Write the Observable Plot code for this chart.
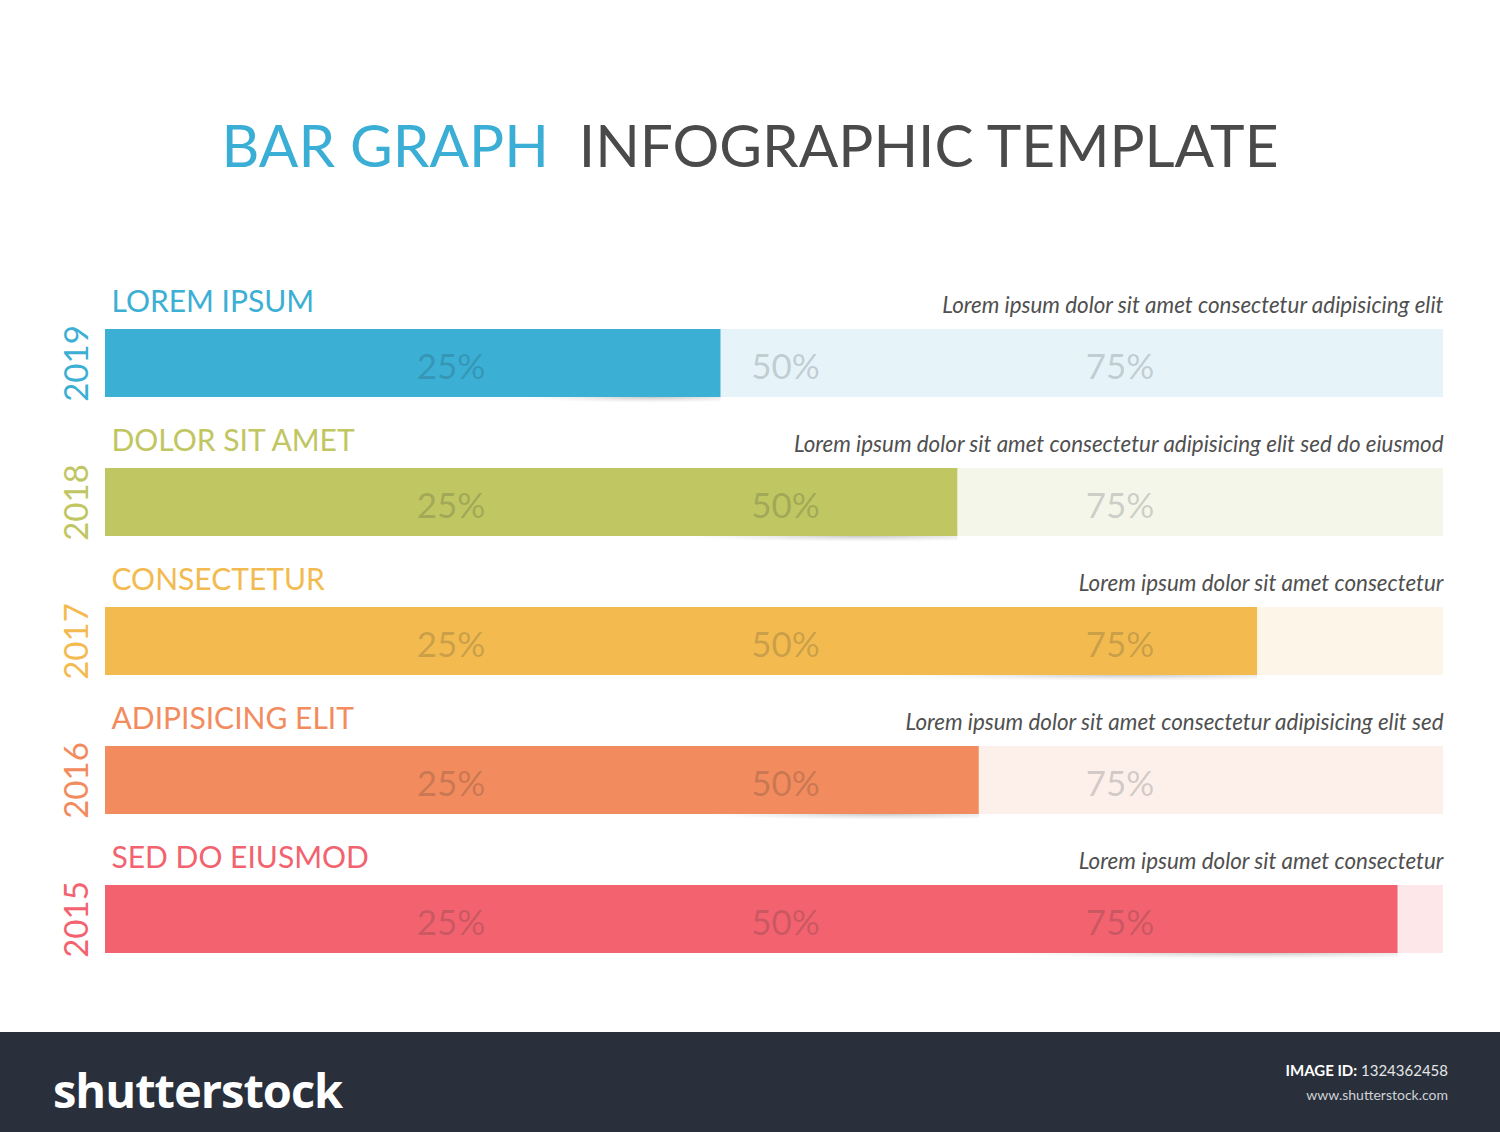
<!DOCTYPE html>
<html>
<head>
<meta charset="utf-8">
<script src="https://cdn.jsdelivr.net/npm/d3@7"></script>
<script src="https://cdn.jsdelivr.net/npm/@observablehq/plot@0.6"></script>
<style>
  html, body { margin: 0; padding: 0; background: #ffffff; }
  #page { width: 1500px; height: 1132px; position: relative; overflow: hidden; font-family: Lato, "Open Sans", sans-serif; }
  #title { position: absolute; left: 0; top: 0; width: 1500px; height: 230px; }
  #title .t { position: absolute; left: 0; width: 1500px; top: 115px; text-align: center; font-size: 58.5px; line-height: 1; white-space: pre; font-weight: 400; }
  #title .a { color: #3aaed4; }
  #title .b { color: #4a4a4a; }
  #chart { position: absolute; left: 0; top: 230px; }
  #footer { position: absolute; left: 0; top: 1032px; width: 1500px; height: 100px; background: #29303b; color: #fff; }
  #footer .logo { position: absolute; left: 53px; top: 26px; font-size: 47px; font-weight: 700; letter-spacing: -1px; font-family: "Open Sans", Lato, sans-serif; }
  #footer .id { position: absolute; right: 52px; top: 29px; font-size: 15px; color: #e6e6e6; }
  #footer .id b { font-weight: 700; color: #fff; }
  #footer .url { position: absolute; right: 52px; top: 54px; font-size: 14px; color: #cfd2d6; }
</style>
</head>
<body>
<div id="page">
  <div id="title"><div class="t"><span class="a">BAR GRAPH</span>  <span class="b">INFOGRAPHIC TEMPLATE</span></div></div>
  <div id="chart"></div>
  <div id="footer">
    <div class="logo">shutterstock</div>
    <div class="id"><b>IMAGE ID:</b> 1324362458</div>
    <div class="url">www.shutterstock.com</div>
  </div>
</div>
<script>
const years = ["2019", "2018", "2017", "2016", "2015"];
const categories = ["LOREM IPSUM", "DOLOR SIT AMET", "CONSECTETUR", "ADIPISICING ELIT", "SED DO EIUSMOD"];
const descriptions = [
  "Lorem ipsum dolor sit amet consectetur adipisicing elit",
  "Lorem ipsum dolor sit amet consectetur adipisicing elit sed do eiusmod",
  "Lorem ipsum dolor sit amet consectetur",
  "Lorem ipsum dolor sit amet consectetur adipisicing elit sed",
  "Lorem ipsum dolor sit amet consectetur"
];
const values = [46, 63.7, 86.1, 65.3, 96.6];
const barColors = ["#3cafd4", "#c0c661", "#f3bb4f", "#f28b5d", "#f2636f"];
const trackColors = ["#e6f3f8", "#f5f6ea", "#fdf5e7", "#fdefea", "#fde7e9"];
const tickValues = [25, 50, 75];
const tickLabels = ["25%", "50%", "75%"];

const rows = years.map((y, i) => ({
  year: y, category: categories[i], description: descriptions[i],
  value: values[i], color: barColors[i], track: trackColors[i]
}));
const ticks = years.flatMap(y => tickValues.map((t, j) => ({year: y, x: t, label: tickLabels[j]})));

const chart = Plot.plot({
  width: 1500,
  height: 802,
  marginLeft: 105,
  marginRight: 57,
  marginTop: 0,
  marginBottom: 0,
  style: {background: "transparent", fontFamily: "Lato, sans-serif"},
  x: {domain: [0, 100], axis: null},
  y: {type: "band", domain: years, range: [99, 723], paddingInner: 71 / 139, paddingOuter: 0, axis: null},
  color: {type: "identity"},
  marks: [
    Plot.ruleX(rows, {x: 0, y: "year", stroke: "#e6e6e6", strokeWidth: 1.5, dx: -1, insetTop: -14, insetBottom: -14}),
    Plot.barX(rows, {x1: 0, x2: 100, y: "year", fill: "track"}),
    Plot.barX(rows, {x1: d => d.value * 0.6, x2: d => d.value, y: "year", fill: "url(#shadowGrad)", insetTop: 66, insetBottom: -9}),
    Plot.barX(rows, {x1: 0, x2: "value", y: "year", fill: "color"}),
    Plot.text(ticks, {x: "x", y: "year", text: "label", dx: 11, dy: 4, fontSize: 35, fill: "#1c2a30", fillOpacity: 0.2}),
    Plot.text(rows, {x: 0, y: "year", text: "category", textAnchor: "start", dx: 6, dy: -61, fontSize: 30, fill: "color"}),
    Plot.text(rows, {x: 100, y: "year", text: "description", textAnchor: "end", dy: -58, fontSize: 22.4, fontStyle: "italic", fill: "#505050"}),
    Plot.text(rows, {x: 0, y: "year", text: "year", rotate: -90, dx: -28, fontSize: 33, fill: "color"})
  ]
});

const svg = d3.select(chart);
const defs = svg.insert("defs", ":first-child");
const g = defs.append("radialGradient").attr("id", "shadowGrad")
  .attr("cx", 0.72).attr("cy", 0.2).attr("r", 0.5);
g.append("stop").attr("offset", "0%").attr("stop-color", "#000").attr("stop-opacity", 0.2);
g.append("stop").attr("offset", "55%").attr("stop-color", "#000").attr("stop-opacity", 0.07);
g.append("stop").attr("offset", "100%").attr("stop-color", "#000").attr("stop-opacity", 0);

document.getElementById("chart").appendChild(chart);
</script>
</body>
</html>
